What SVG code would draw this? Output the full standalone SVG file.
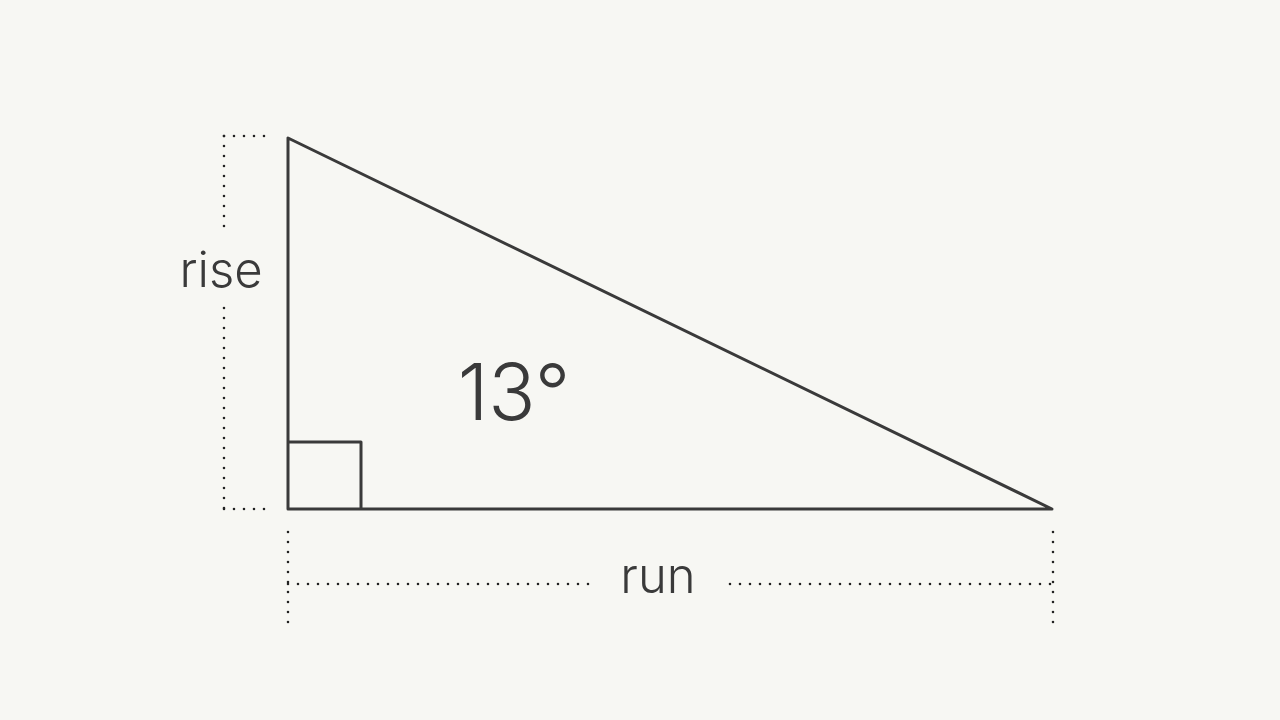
<svg xmlns="http://www.w3.org/2000/svg" width="1280" height="720" viewBox="0 0 1280 720">
<style>
.edge{fill:none;stroke:#3a3a3a;stroke-width:3;stroke-linejoin:round}
.dot{fill:none;stroke:#222;stroke-width:2.6;stroke-dasharray:0 10;stroke-linecap:round}
.lbl{font-family:Inter,"Noto Sans","DejaVu Sans",sans-serif;font-weight:300;fill:#3a3a3a}
</style>
<rect width="1280" height="720" fill="#f7f7f3"/>
<g id="triangle">
<polygon class="edge" points="288,138 288,509 1052,509"/>
<polyline class="edge" points="288,442 361,442 361,509"/>
</g>
<g id="connectors">
<line class="dot" x1="224" y1="136" x2="268" y2="136"/>
<line class="dot" x1="224" y1="509" x2="268" y2="509"/>
<line class="dot" x1="224" y1="136" x2="224" y2="234"/>
<line class="dot" x1="224" y1="308" x2="224" y2="509"/>
<line class="dot" x1="288" y1="532" x2="288" y2="628"/>
<line class="dot" x1="1053" y1="532" x2="1053" y2="628"/>
<line class="dot" x1="288" y1="584" x2="592" y2="584"/>
<line class="dot" x1="730" y1="584" x2="1053" y2="584"/>
</g>
<g id="label-rise"><text class="lbl" x="221" y="287" font-size="49" text-anchor="middle">rise</text></g>
<g id="label-run"><text class="lbl" x="658" y="593" font-size="49" text-anchor="middle">run</text></g>
<g id="label-angle"><text class="lbl" x="514" y="420" font-size="78" text-anchor="middle">13°</text></g>
</svg>
